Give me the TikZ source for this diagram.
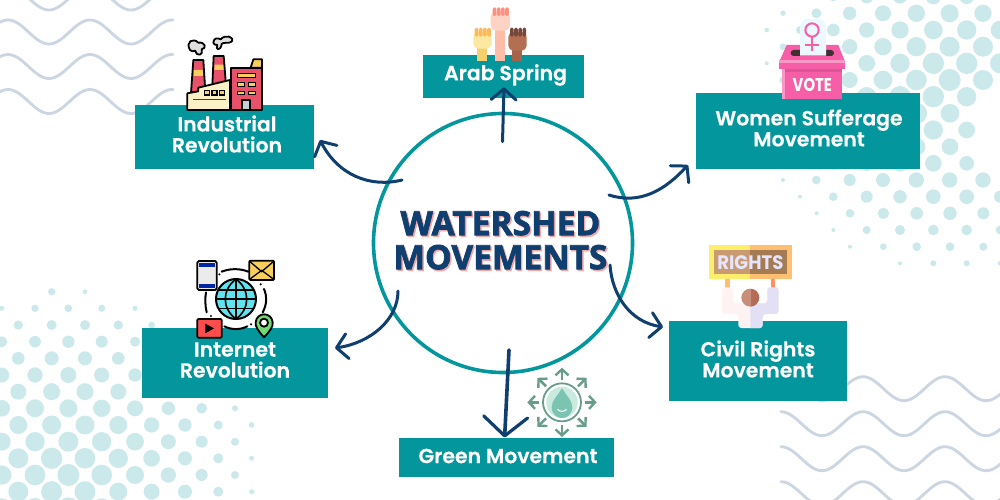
\documentclass[tikz,border=0pt]{standalone}
\usepackage{fontspec}
\usetikzlibrary{arrows.meta,calc}
\setmainfont{Poppins}
\newfontfamily\labfont{Poppins SemiBold}[FakeBold=0.4]
\newfontfamily\hubfont{Open Sans}[BoldFeatures={FakeBold=2.2}]
\definecolor{boxteal}{HTML}{03979D}
\definecolor{dotc}{HTML}{CBE9EB}
\definecolor{wavec}{HTML}{CBD6E2}
\definecolor{navy}{HTML}{0F3F6E}
\definecolor{shadowc}{HTML}{F8A5A5}
\definecolor{brick}{HTML}{E9506A}
\definecolor{gold}{HTML}{F9CF5B}
\definecolor{cream}{HTML}{FBF1C6}
\definecolor{pinkv}{HTML}{F65FA8}
\definecolor{leaf}{HTML}{6A9C8C}
\tikzset{
  x=1pt,y=-1pt,
  tealbox/.style={fill=boxteal,inner sep=0pt,outer sep=0pt},
  lab/.style={text=white,align=center,font=\labfont\fontsize{20.4}{21}\selectfont,inner sep=0pt},
  wave/.style={draw=wavec,line width=2.8pt,line cap=round},
  flow/.style={draw=navy,line width=3pt,line cap=round,-{Straight Barb[length=11pt,width=25pt,line width=3pt,round]}},
  ink/.style={draw=black,line width=1.8pt,line join=round},
  ringarc/.style={black,line width=2pt,line cap=round},
  leafarrow/.style={draw=leaf,line width=2.6pt,-{Straight Barb[length=6pt,width=13pt,line width=2.4pt]}}
}
\begin{document}
\begin{tikzpicture}
\useasboundingbox (0,0) rectangle (1000,500);
\clip (0,0) rectangle (1000,500);
\fill[white] (0,0) rectangle (1000,500);
% halftone bottom-left
\foreach \yy/\xx/\ds in {
 291.7/51.7/{22,14},
 308.3/1.7/{15,22,23,21,15},
 325/18.3/{28,30,30,28,20},
 341.7/1.7/{33,35,37,36,30},
 358.3/18.3/{38,42,42,38},
 375/1.7/{45,46,48,45,40},
 391.7/18.3/{48,51,51,48},
 408.3/1.7/{50,54,54,52,48,40,32,18},
 425/18.3/{54,57,57,54,46,40,27,17},
 441.7/1.7/{54,58,60,58,53,45,36,24},
 458.3/18.3/{60,64,62,58,50,42,30,15},
 475/1.7/{58,62,66,62,54,46,36,24},
 491.7/18.3/{60,63,63,54,48,42,30,15},
 508.3/1.7/{60,62,66,60,50,44,34,20}}{
  \foreach \d [count=\i from 0] in \ds {
    \fill[dotc] (\xx+\i*33.33,\yy) circle ({\d/6});
  }
}
% halftone top-right
\foreach \yy/\xx/\ds in {
 -3.3/800/{10,28,40,42,46,44},
 13.3/783/{16,30,40,48,52,54,52},
 30/766.7/{14,24,38,46,52,56,58,56},
 46.7/783/{20,34,46,52,58,60,60},
 63.3/766.7/{12,26,40,50,58,64,64,60},
 80/783/{22,36,48,56,62,66,60},
 96.7/800/{38,50,58,64,64,58},
 113.3/816.7/{40,50,56,62,56},
 130/800/{36,46,54,58,58,50},
 146.7/816.7/{40,46,50,52,50},
 163.3/800/{30,40,46,50,50,44},
 180/783/{12,26,36,42,46,46,46},
 196.7/800/{12,26,36,40,44,44,36},
 213.3/816.7/{12,26,34,38,40,36},
 230/833.3/{12,24,30,32,32,26},
 246.7/850/{12,20,26,26,24},
 263.3/900/{12,18,18,14}}{
  \foreach \d [count=\i from 0] in \ds {
    \fill[dotc] (\xx+\i*33.33,\yy) circle ({\d/6});
  }
}
% waves
\foreach \c in {-14,20,54.5,89.5}{
  \draw[wave] plot[domain=0:173,samples=70,smooth] (\x,{\c+12-12*cos((\x-8)/82*360)});
}
\foreach \c in {376.7,411.7,446.7,481.7}{
  \draw[wave] plot[domain=781:1002,samples=80,smooth] (\x,{\c+12-12*cos((\x-781)/82*360)});
}
% hub and boxes
\node[draw=boxteal,line width=3.6pt,circle,minimum size=259pt,inner sep=0pt,outer sep=0pt] (hub) at (503,243) {};
\node[tealbox,minimum width=179pt,minimum height=63.4pt] (indust) at (224.5,137) {};
\node[tealbox,minimum width=160.7pt,minimum height=43pt] (arab) at (503.7,76.5) {};
\node[tealbox,minimum width=224pt,minimum height=76pt] (women) at (808,131) {};
\node[tealbox,minimum width=177.7pt,minimum height=80pt] (civil) at (758,361.3) {};
\node[tealbox,minimum width=186pt,minimum height=69.4pt] (internet) at (235.3,363) {};
\node[tealbox,minimum width=215.3pt,minimum height=38.4pt] (green) at (506.6,457.5) {};
% factory icon
\begin{scope}[shift={(130,0)},scale=1/3]
 \draw[ink,fill=gray!25] (180,150) .. controls (165,125) and (190,112) .. (205,128) .. controls (225,125) and (232,145) .. (215,148) .. controls (222,165) and (200,172) .. (196,152) .. controls (190,155) and (185,155) .. (180,150) -- cycle;
 \draw[ink,fill=gray!25] (250,128) .. controls (250,115) and (262,112) .. (272,118) .. controls (285,102) and (315,110) .. (305,125) .. controls (295,132) and (280,125) .. (275,132) .. controls (272,155) and (255,150) .. (262,135) .. controls (255,135) and (250,133) .. (250,128) -- cycle;
 \draw[ink,fill=brick] (190,180) -- (220,180) -- (226,275) -- (183,278) -- cycle;
 \fill[gold] (192,210) -- (218,210) -- (219,228) -- (191,228) -- cycle;
 \draw[ink,fill=brick] (251,168) -- (281,168) -- (288,255) -- (247,255) -- cycle;
 \fill[gold] (254,194) -- (280,194) -- (281,210) -- (253,210) -- cycle;
 \draw[ink,fill=gold] (362,203) -- (370,178) -- (396,178) -- (396,203) -- cycle;
 \draw[ink,fill=brick] (302,203) rectangle (396,330);
 \draw[draw=black,line width=1pt,fill=gold] (322,222) rectangle (377,233);
 \foreach \px/\py in {322/248,355/248,322/274,355/274}{
   \draw[draw=black,line width=1pt,fill=gold] (\px,\py) rectangle (\px+22,\py+11);
 }
 \draw[ink,fill=cyan!25!gray!45] (337,301) rectangle (360,330);
 \draw[ink,fill=cream] (172,330) -- (172,280) -- (205,274) -- (205,263) -- (300,240) -- (300,330) -- cycle;
 \foreach \px in {224,246,268}{
   \draw[draw=black,line width=1.2pt,fill=gold] (\px,271) rectangle (\px+15,285);
 }
 \draw[draw=black!75,line width=1pt] (190,298) -- (288,298);
\end{scope}
% fists icon
\begin{scope}[shift={(420,0)},scale=1/3]
 \fill[fill={rgb,255:red,247;green,208;blue,110}] (172,130) rectangle (202,183);
 \fill[fill={rgb,255:red,252;green,232;blue,160},rounded corners=5pt] (160,96) rectangle (215,146);
 \foreach \i in {0,1,2,3}{
   \fill[fill={rgb,255:red,253;green,185;blue,92},rounded corners=1.5pt] (164+\i*12.5,83) rectangle (175+\i*12.5,110);
 }
 \fill[fill={rgb,255:red,255;green,189;blue,168}] (224,80) rectangle (254,183);
 \fill[fill={rgb,255:red,255;green,211;blue,195},rounded corners=5pt] (212,36) rectangle (270,92);
 \foreach \i in {0,1,2,3}{
   \fill[fill={rgb,255:red,255;green,144;blue,128},rounded corners=1.5pt] (218+\i*12.5,22) rectangle (229+\i*12.5,48);
 }
 \fill[fill={rgb,255:red,165;green,99;blue,74}] (275,130) rectangle (305,183);
 \fill[fill={rgb,255:red,180;green,111;blue,82},rounded corners=5pt] (265,96) rectangle (320,152);
 \foreach \i in {0,1,2,3}{
   \fill[fill={rgb,255:red,117;green,71;blue,58},rounded corners=1.5pt] (270+\i*12.5,83) rectangle (281+\i*12.5,110);
 }
\end{scope}
% ballot icon
\begin{scope}[shift={(690,10)},scale=1/3]
 \fill[pinkv] (270,150) -- (290,105) -- (445,105) -- (463,150) -- cycle;
 \fill[black!75!pink,rounded corners=3pt] (302,120) rectangle (432,138);
 \fill[cyan!8] (330,137) -- (330,45) -- (345,27) -- (395,27) -- (408,45) -- (408,137) -- cycle;
 \draw[pinkv,line width=2pt] (366,60) circle (20);
 \draw[pinkv,line width=2pt] (366,80) -- (366,122) (346,104) -- (386,104);
 \fill[pinkv!65!white] (268,150) rectangle (464,160);
 \fill[pinkv] (268,160) rectangle (464,178);
 \fill[pinkv!90!black] (276,178) rectangle (456,186);
 \fill[pinkv] (276,186) rectangle (456,267);
 \fill[pinkv!65!white] (276,178) rectangle (286,267);
 \node[text=white,font=\bfseries\fontsize{18.5}{19}\selectfont,inner sep=0pt,xscale=.8] (votetxt) at (367,224) {VOTE};
\end{scope}
% rights icon
\begin{scope}[shift={(660,240)},scale=1/3]
 \fill[fill={rgb,255:red,255;green,191;blue,114}] (195,117) rectangle (210,145);
 \fill[fill={rgb,255:red,255;green,144;blue,96}] (332,117) rectangle (346,145);
 \fill[fill={rgb,255:red,255;green,238;blue,107}] (148,15) rectangle (271,117);
 \fill[fill={rgb,255:red,255;green,191;blue,114}] (271,15) rectangle (395,117);
 \fill[fill={rgb,255:red,201;green,155;blue,112}] (162,30) rectangle (271,102);
 \fill[fill={rgb,255:red,164;green,123;blue,82}] (271,30) rectangle (382,102);
 \node[text=white!90!blue,font=\bfseries\fontsize{19.5}{20}\selectfont,inner sep=0pt,xscale=.93] (rightstxt) at (271,67) {RIGHTS};
 \def\personpath{(235,264) -- (235,222) -- (186,222) -- (186,142) -- (220,142) -- (220,190) -- (322,190) -- (322,142) -- (356,142) -- (356,222) -- (308,222) -- (308,264) -- cycle}
 \fill[fill={rgb,255:red,255;green,242;blue,243},rounded corners=3pt] \personpath;
 \begin{scope}
  \clip (271,100) rectangle (400,300);
  \fill[fill={rgb,255:red,227;green,223;blue,244},rounded corners=3pt] \personpath;
 \end{scope}
 \fill[fill={rgb,255:red,201;green,141;blue,120}] (271,200) arc[start angle=90,end angle=270,radius=27] -- cycle;
 \fill[fill={rgb,255:red,180;green,108;blue,87}] (271,200) arc[start angle=90,end angle=-90,radius=27] -- cycle;
\end{scope}
% internet icon
\begin{scope}[shift={(140,255)},scale=1/3]
 \draw[ringarc] (245,50) .. controls (270,40) and (300,40) .. (325,50);
 \draw[ringarc] (198,112) .. controls (195,130) and (195,150) .. (200,172);
 \draw[ringarc] (372,102) .. controls (382,125) and (380,150) .. (368,172);
 \draw[ringarc] (253,214) .. controls (275,225) and (300,225) .. (322,214);
 \foreach \px/\py in {238/58,362/88,213/183,333/208}{\fill[black] (\px,\py) circle (3.5);}
 \draw[ink,line width=2pt,fill={rgb,255:red,95;green,227;blue,238}] (288,132) circle (60);
 \begin{scope}
  \clip (288,132) circle (60);
  \draw[black,line width=1.6pt] (228,105) -- (348,105) (228,132) -- (348,132) (228,160) -- (348,160) (288,72) -- (288,192);
  \draw[black,line width=1.6pt] (288,72) .. controls (245,105) and (245,160) .. (288,192);
  \draw[black,line width=1.6pt] (288,72) .. controls (331,105) and (331,160) .. (288,192);
 \end{scope}
 \draw[ink,fill=white!92!black,rounded corners=1.5pt] (172,18) rectangle (230,105);
 \fill[blue!60!black!85!cyan] (176,25) rectangle (226,36);
 \fill[blue!60!black!85!cyan] (176,86) rectangle (226,100);
 \draw[ink,fill=gold,rounded corners=1pt] (328,17) rectangle (402,75);
 \draw[black,line width=1.3pt] (330,20) -- (365,50) -- (400,20) (330,72) -- (365,46) -- (400,72);
 \draw[ink,fill=red!70!white,rounded corners=1pt] (172,192) rectangle (245,248);
 \fill[black] (196,206) -- (222,220) -- (196,235) -- cycle;
 \draw[ink,fill=green!55!gray!70] (372,247) .. controls (355,228) and (345,215) .. (347,202) .. controls (350,170) and (395,170) .. (398,202) .. controls (400,215) and (390,228) .. (372,247) -- cycle;
 \draw[ink,fill=white] (372,203) circle (12);
\end{scope}
% green icon
\begin{scope}[shift={(395,350)},scale=1/3]
 \foreach \a in {0,45,...,315}{
   \draw[leafarrow] ({501+68*cos(\a)},{157+68*sin(\a)}) -- ({501+104*cos(\a)},{157+104*sin(\a)});
 }
 \draw[draw=leaf,line width=1.8pt,fill=white] (501,157) circle (57);
 \fill[fill={rgb,255:red,201;green,235;blue,223}] (501,157) circle (47);
 \fill[fill={rgb,255:red,124;green,196;blue,178}] (501,115) .. controls (490,135) and (470,150) .. (470,172) .. controls (472,215) and (530,215) .. (532,172) .. controls (532,150) and (512,135) .. (501,115) -- cycle;
 \draw[white,line width=1pt] (487,178) .. controls (495,186) and (507,186) .. (515,178);
\end{scope}
% connectors
\draw[flow] ($(hub)+(-101,-63)$) .. controls (370,188) and (338,175) .. ($(indust)+(95.5,3)$);
\draw[flow] ($(hub)+(-0.5,-101.3)$) -- ($(arab)+(0.3,10.8)$);
\draw[flow] ($(hub)+(106,-48)$) .. controls (640,205) and (665,190) .. ($(women)+(-120,34)$);
\draw[flow] ($(hub)+(107,22)$) .. controls (612,295) and (630,322) .. ($(civil)+(-95,-34.3)$);
\draw[flow] ($(hub)+(-105,48)$) .. controls (398,320) and (370,343) .. ($(internet)+(99.7,-15)$);
\draw[draw=navy,line width=3.6pt,line cap=round,-{Straight Barb[length=19pt,width=44pt,line width=3.2pt,round]}] ($(hub)+(6,107)$) -- ($(green)+(-2,-20)$);
% texts
\node[lab] (tindust) at (227,134) {Industrial\\Revolution};
\node[lab] (tarab) at (505.5,75) {Arab Spring};
\node[lab] (twomen) at (809,128) {Women Sufferage\\Movement};
\node[lab] (tcivil) at (758,359) {Civil Rights\\Movement};
\node[lab] (tinternet) at (235,360) {Internet\\Revolution};
\node[lab] (tgreen) at (508,456) {Green Movement};
\node[text=shadowc,align=center,font=\hubfont\bfseries\fontsize{33.5}{34}\selectfont,inner sep=0pt] (hubshade) at (501.8,241.8) {WATERSHED\\MOVEMENTS};
\node[text=navy,align=center,font=\hubfont\bfseries\fontsize{33.5}{34}\selectfont,inner sep=0pt] (hubtitle) at (500.4,240.2) {WATERSHED\\MOVEMENTS};
\end{tikzpicture}
\end{document}
